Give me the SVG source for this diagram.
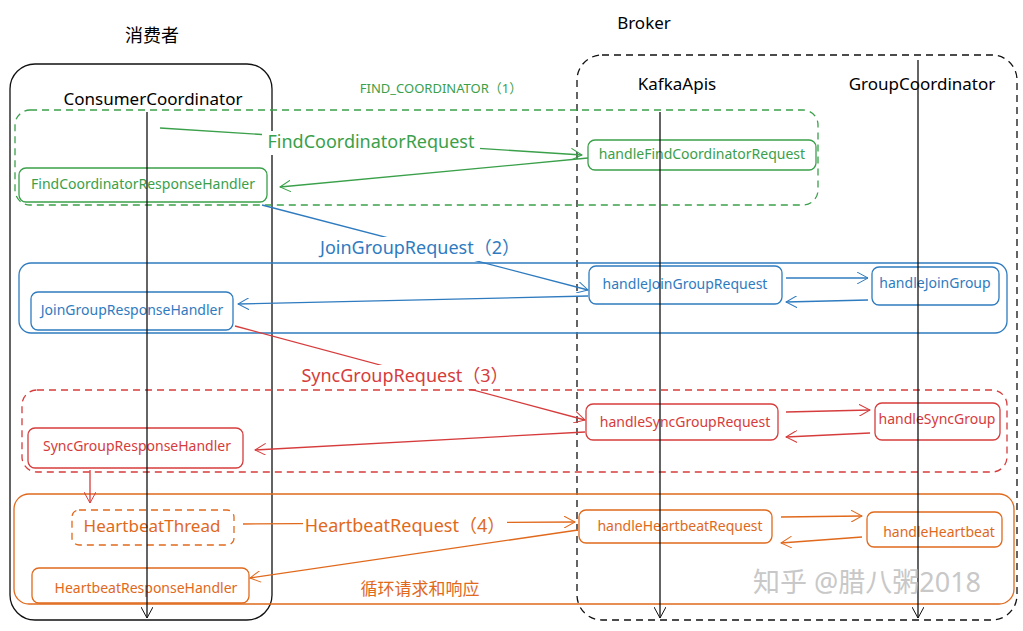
<svg xmlns="http://www.w3.org/2000/svg" width="1023" height="631" viewBox="0 0 1023 631">
<style>
text{font-family:"Noto Sans","Noto Sans CJK SC",sans-serif;text-anchor:middle;dominant-baseline:middle}
.g{stroke:#3aa04a;fill:none;stroke-width:1.3}.gt{fill:#3aa04a}
.b{stroke:#2f7bbf;fill:none;stroke-width:1.3}.bt{fill:#2f7bbf}
.r{stroke:#d63c3c;fill:none;stroke-width:1.3}.rt{fill:#d63c3c}
.o{stroke:#e0691c;fill:none;stroke-width:1.3}.ot{fill:#e0691c}
.k{stroke:#111;fill:none;stroke-width:1.3}
.d{stroke-dasharray:7 5}
</style>
<defs>
<marker id="ak" viewBox="0 0 12 12" refX="11" refY="6" markerWidth="12" markerHeight="12" markerUnits="userSpaceOnUse" orient="auto"><path d="M0,0 L11,6 L0,12" fill="none" stroke="#111"/></marker>
<marker id="ag" viewBox="0 0 12 12" refX="11" refY="6" markerWidth="12" markerHeight="12" markerUnits="userSpaceOnUse" orient="auto"><path d="M0,0 L11,6 L0,12" fill="none" stroke="#3aa04a"/></marker>
<marker id="ab" viewBox="0 0 12 12" refX="11" refY="6" markerWidth="12" markerHeight="12" markerUnits="userSpaceOnUse" orient="auto"><path d="M0,0 L11,6 L0,12" fill="none" stroke="#2f7bbf"/></marker>
<marker id="ar" viewBox="0 0 12 12" refX="11" refY="6" markerWidth="12" markerHeight="12" markerUnits="userSpaceOnUse" orient="auto"><path d="M0,0 L11,6 L0,12" fill="none" stroke="#d63c3c"/></marker>
<marker id="ao" viewBox="0 0 12 12" refX="11" refY="6" markerWidth="12" markerHeight="12" markerUnits="userSpaceOnUse" orient="auto"><path d="M0,0 L11,6 L0,12" fill="none" stroke="#e0691c"/></marker>
</defs>
<rect width="1023" height="631" fill="#fff"/>
<g id="consumer"><rect class="k" x="10" y="64" width="262" height="556" rx="25"/><text x="152" y="37" font-size="18">消费者</text><text x="153" y="100" font-size="17">ConsumerCoordinator</text></g>
<g id="broker"><rect class="k d" x="577" y="55" width="440" height="565" rx="25"/><text x="644" y="24" font-size="17">Broker</text><text x="677" y="85" font-size="17">KafkaApis</text><text x="922" y="85" font-size="17">GroupCoordinator</text></g>
<g id="phase1"><rect class="g d" x="15" y="110" width="803" height="95" rx="15"/><text class="gt" x="441" y="90" font-size="13">FIND_COORDINATOR（1）</text></g>
<g id="phase2"><rect class="b" x="19" y="263" width="988" height="70" rx="12"/></g>
<g id="phase3"><rect class="r d" x="22" y="390" width="985" height="82" rx="15"/></g>
<g id="phase4"><rect class="o" x="14" y="494" width="1000" height="110" rx="15"/><text class="ot" x="420" y="590" font-size="17">循环请求和响应</text></g>
<g id="n1"><rect class="g" x="588" y="140" width="228" height="30" rx="7"/><text class="gt" x="702" y="155" font-size="14">handleFindCoordinatorRequest</text></g>
<g id="n2"><rect class="g" x="19" y="168" width="248" height="34" rx="7"/><text class="gt" x="143" y="185" font-size="14">FindCoordinatorResponseHandler</text></g>
<g id="n3"><rect class="b" x="589" y="266" width="193" height="38" rx="7"/><text class="bt" x="685" y="285" font-size="14">handleJoinGroupRequest</text></g>
<g id="n4"><rect class="b" x="872" y="267" width="127" height="38" rx="7"/><text class="bt" x="935" y="284" font-size="14">handleJoinGroup</text></g>
<g id="n5"><rect class="b" x="31" y="292" width="202" height="38" rx="7"/><text class="bt" x="132" y="311" font-size="14">JoinGroupResponseHandler</text></g>
<g id="n6"><rect class="r" x="586" y="404" width="192" height="36" rx="7"/><text class="rt" x="685" y="423" font-size="14">handleSyncGroupRequest</text></g>
<g id="n7"><rect class="r" x="875" y="403" width="125" height="37" rx="7"/><text class="rt" x="937" y="420" font-size="14">handleSyncGroup</text></g>
<g id="n8"><rect class="r" x="28" y="428" width="215" height="40" rx="7"/><text class="rt" x="137" y="447" font-size="14">SyncGroupResponseHandler</text></g>
<g id="n9"><rect class="o d" x="72" y="510" width="162" height="35" rx="7"/><text class="ot" x="152" y="527" font-size="17">HeartbeatThread</text></g>
<g id="n10"><rect class="o" x="579" y="510" width="193" height="33" rx="7"/><text class="ot" x="680" y="527" font-size="14">handleHeartbeatRequest</text></g>
<g id="n11"><rect class="o" x="867" y="512" width="135" height="35" rx="7"/><text class="ot" x="939" y="533" font-size="14">handleHeartbeat</text></g>
<g id="n12"><rect class="o" x="32" y="568" width="217" height="35" rx="7"/><text class="ot" x="146" y="589" font-size="14">HeartbeatResponseHandler</text></g>
<g id="connectors">
<line class="k" x1="147" y1="112" x2="147" y2="618" marker-end="url(#ak)"/>
<line class="k" x1="660" y1="112" x2="660" y2="618" marker-end="url(#ak)"/>
<line class="k" x1="918" y1="60" x2="918" y2="618" marker-end="url(#ak)"/>
<line class="g" x1="160" y1="128" x2="582" y2="155" marker-end="url(#ag)"/>
<line class="g" x1="588" y1="158" x2="280" y2="187" marker-end="url(#ag)"/>
<line class="b" x1="262" y1="205" x2="588" y2="290" marker-end="url(#ab)"/>
<line class="b" x1="588" y1="296" x2="238" y2="304" marker-end="url(#ab)"/>
<line class="b" x1="786" y1="278" x2="868" y2="278" marker-end="url(#ab)"/>
<line class="b" x1="868" y1="300" x2="786" y2="302" marker-end="url(#ab)"/>
<line class="r" x1="235" y1="326" x2="585" y2="420" marker-end="url(#ar)"/>
<line class="r" x1="585" y1="432" x2="255" y2="450" marker-end="url(#ar)"/>
<line class="r" x1="786" y1="412" x2="870" y2="410" marker-end="url(#ar)"/>
<line class="r" x1="870" y1="433" x2="786" y2="437" marker-end="url(#ar)"/>
<line class="r" x1="90" y1="470" x2="90" y2="503" marker-end="url(#ar)"/>
<line class="o" x1="243" y1="524" x2="575" y2="522" marker-end="url(#ao)"/>
<line class="o" x1="578" y1="530" x2="250" y2="578" marker-end="url(#ao)"/>
<line class="o" x1="781" y1="517" x2="862" y2="516" marker-end="url(#ao)"/>
<line class="o" x1="862" y1="537" x2="781" y2="543" marker-end="url(#ao)"/>
<g font-size="18">
<rect x="262" y="131" width="218" height="24" fill="#fff"/><text class="gt" x="371" y="143">FindCoordinatorRequest</text>
<rect x="318" y="237" width="204" height="24" fill="#fff"/><text class="bt" x="420" y="249">JoinGroupRequest（2）</text>
<rect x="300" y="365" width="210" height="24" fill="#fff"/><text class="rt" x="405" y="377">SyncGroupRequest（3）</text>
<rect x="303" y="515" width="204" height="24" fill="#fff"/><text class="ot" x="405" y="527">HeartbeatRequest（4）</text>
</g>
</g>
<text x="867" y="585" font-size="27" fill="#c8c8c8">知乎 @腊八粥2018</text>
</svg>
